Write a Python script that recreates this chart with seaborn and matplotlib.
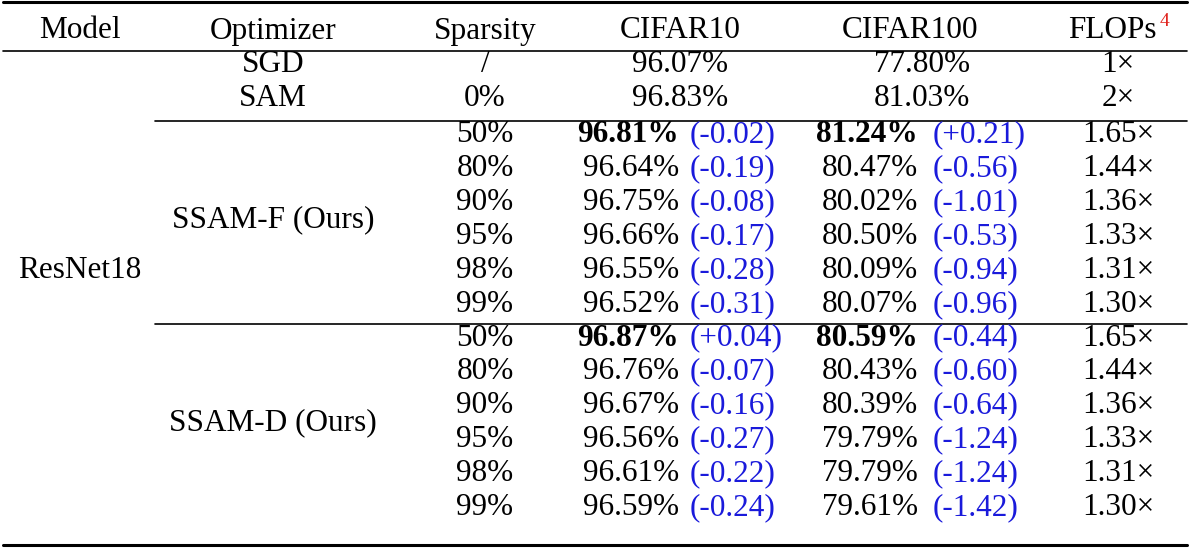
import matplotlib
matplotlib.use("Agg")
import matplotlib.pyplot as plt
import seaborn as sns

sns.set_theme(style="white")
plt.rcParams['font.family'] = ['Liberation Serif', 'DejaVu Serif']

headers = ["Model", "Optimizer", "Sparsity", "CIFAR10", "CIFAR100", "FLOPs"]
base_opt = ["SGD", "SAM"]
base_sp = ["/", "0%"]
base_c10 = ["96.07%", "96.83%"]
base_c100 = ["77.80%", "81.03%"]
base_flops = ["1×", "2×"]

sparsity = ["50%", "80%", "90%", "95%", "98%", "99%"]
flops = ["1.65×", "1.44×", "1.36×", "1.33×", "1.31×", "1.30×"]
f_c10 = ["96.81%", "96.64%", "96.75%", "96.66%", "96.55%", "96.52%"]
f_c10_d = ["(-0.02)", "(-0.19)", "(-0.08)", "(-0.17)", "(-0.28)", "(-0.31)"]
f_c100 = ["81.24%", "80.47%", "80.02%", "80.50%", "80.09%", "80.07%"]
f_c100_d = ["(+0.21)", "(-0.56)", "(-1.01)", "(-0.53)", "(-0.94)", "(-0.96)"]
d_c10 = ["96.87%", "96.76%", "96.67%", "96.56%", "96.61%", "96.59%"]
d_c10_d = ["(+0.04)", "(-0.07)", "(-0.16)", "(-0.27)", "(-0.22)", "(-0.24)"]
d_c100 = ["80.59%", "80.43%", "80.39%", "79.79%", "79.79%", "79.61%"]
d_c100_d = ["(-0.44)", "(-0.60)", "(-0.64)", "(-1.24)", "(-1.24)", "(-1.42)"]

fig = plt.figure(figsize=(11.9, 5.48), dpi=100)
ax = fig.add_axes([0, 0, 1, 1])
ax.set_xlim(0, 1190)
ax.set_ylim(548, 0)
ax.axis("off")

fs = 22.5
blue = "#1a1adb"
xc = [80, 273, 485, 680, 910, 1118]
split10, split100 = 679, 918

def t(x, y, s, ha="center", **kw):
    ax.text(x, y, s, ha=ha, va="center", fontsize=fs, color=kw.pop("color", "black"), **kw)

for x, h in zip(xc, headers):
    if h == "FLOPs":
        t(x - 6, 31, h)
        ax.text(x + 47, 22, "4", color="#e0201a", fontsize=14, ha="center", va="center")
    else:
        t(x, 31, h)

for i, y in enumerate([65, 99]):
    t(xc[1], y, base_opt[i]); t(xc[2], y, base_sp[i])
    t(xc[3], y, base_c10[i]); t(922, y, base_c100[i]); t(xc[5], y, base_flops[i])

t(xc[0], 270, "ResNet18")

def block(y0, name, c10, c10d, c100, c100d):
    ys = [y0 + 33.9 * k for k in range(6)]
    t(xc[1], (ys[2] + ys[3]) / 2, name)
    for k, y in enumerate(ys):
        t(xc[2], y, sparsity[k])
        w = "bold" if k == 0 else "normal"
        t(split10, y, c10[k], ha="right", fontweight=w)
        t(split10 + 11, y, c10d[k], ha="left", color=blue)
        t(split100, y, c100[k], ha="right", fontweight=w)
        t(split100 + 15, y, c100d[k], ha="left", color=blue)
        t(xc[5], y, flops[k])

block(135, "SSAM-F (Ours)", f_c10, f_c10_d, f_c100, f_c100_d)
block(338, "SSAM-D (Ours)", d_c10, d_c10_d, d_c100, d_c100_d)

ax.plot([3, 1187], [2, 2], color="black", lw=2.2)
ax.plot([3, 1187], [50.5, 50.5], color="black", lw=1.2)
ax.plot([155, 1187], [121, 121], color="black", lw=1.2)
ax.plot([155, 1187], [324, 324], color="black", lw=1.2)
ax.plot([3, 1187], [545, 545], color="black", lw=2.2)

fig.savefig("out.png", dpi=100)
